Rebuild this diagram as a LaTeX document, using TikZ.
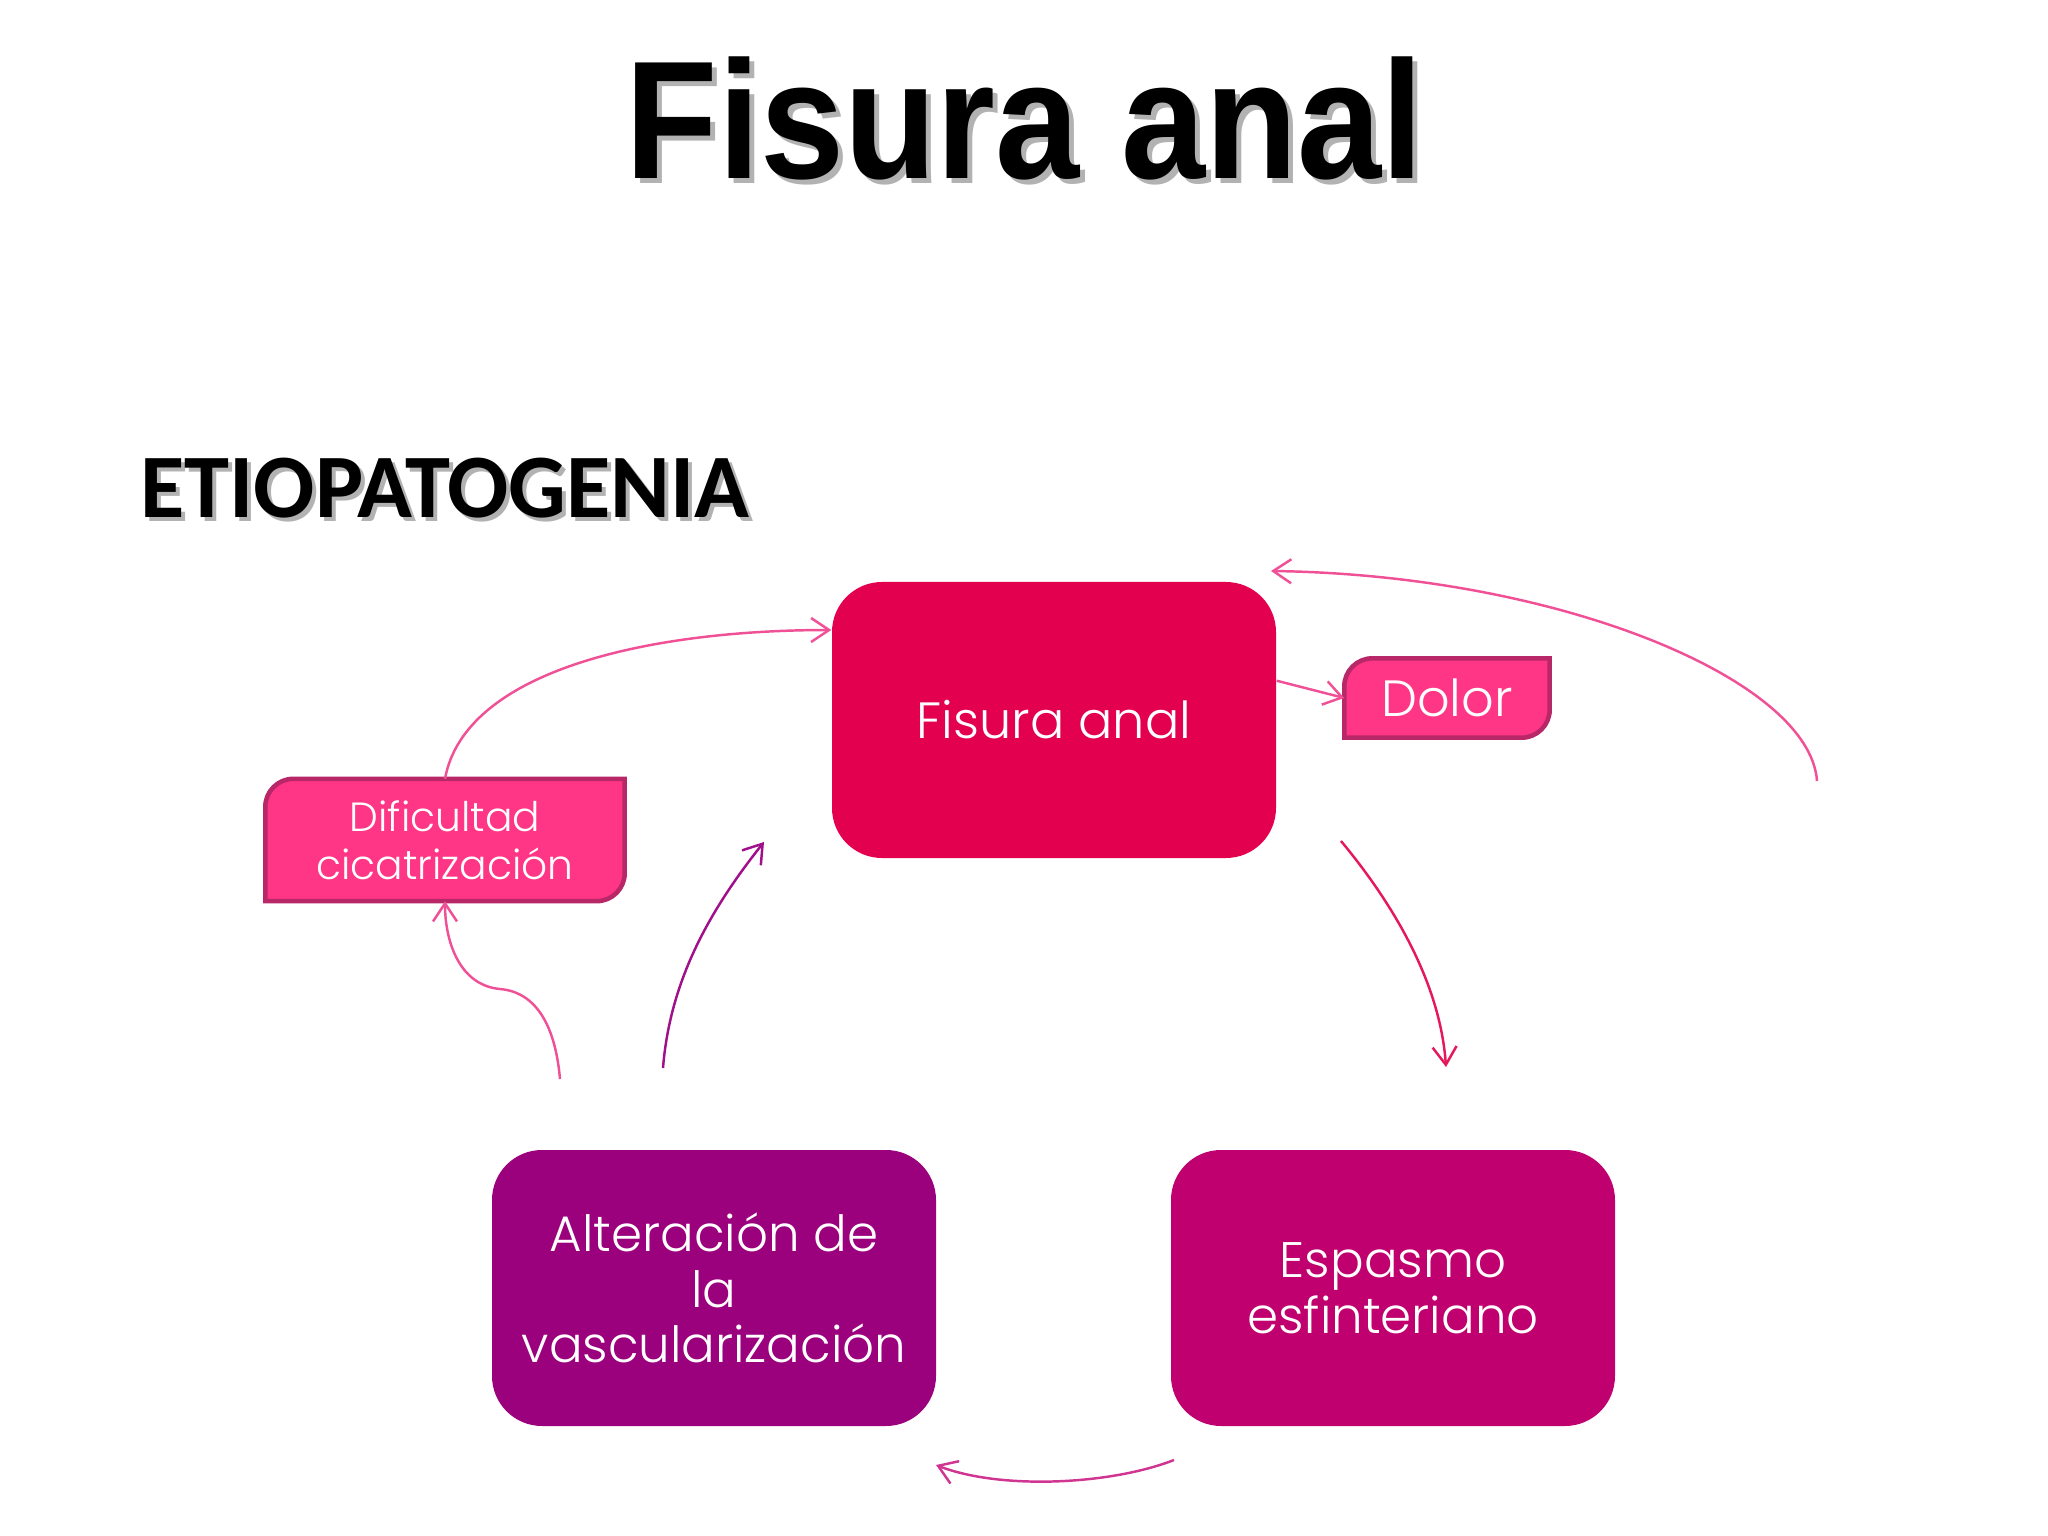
\documentclass[tikz,border=0pt]{standalone}
\usepackage{fontspec}
\setmainfont{Poppins Light}
\newfontfamily\titlefont[FakeStretch=0.9]{Liberation Sans}
\newfontfamily\headfont{Carlito}
\usetikzlibrary{arrows.meta,positioning,backgrounds}

\definecolor{fisfill}{RGB}{227,0,79}
\definecolor{altfill}{RGB}{155,0,125}
\definecolor{espfill}{RGB}{192,0,110}
\definecolor{tagfill}{RGB}{255,53,133}
\definecolor{tagline}{RGB}{184,40,104}
\definecolor{arrpink}{RGB}{240,80,150}
\definecolor{arrred}{RGB}{228,24,90}
\definecolor{arrpurple}{RGB}{160,16,138}

% box with the upper left and lower right corners rounded
\newcommand{\tagshape}[1]{%
  \filldraw[tagbg] (#1.west) [rounded corners=8pt] -- (#1.north west) -- (#1.north)
    [sharp corners] -- (#1.north east) -- (#1.east) [rounded corners=8pt] -- (#1.south east)
    -- (#1.south) [sharp corners] -- (#1.south west) -- cycle;}

\begin{document}
\begin{tikzpicture}[
    bigbox/.style={rectangle, rounded corners=5mm, minimum width=44.4mm, minimum height=27.6mm, text=white, align=center, font=\fontsize{14.2}{15.9}\selectfont},
    tagbox/.style={rectangle, text=white, align=center, inner sep=0pt},
    tagbg/.style={fill=tagfill, draw=tagline, line width=1.3pt},
    arrow/.style={-{Straight Barb[length=1.8mm,width=2.4mm]}, line width=0.7pt, arrpink},
    titletext/.style={anchor=base, font=\titlefont\bfseries\fontsize{47.8}{50}\selectfont},
    headtext/.style={anchor=base, font=\headfont\bfseries\fontsize{25.8}{27}\selectfont}
  ]
    \useasboundingbox (0,0) rectangle (20.48,-15.36);

    % headings
    \node[titletext, text=black!30] (title-sh) at (10.30,-1.84) {Fisura anal};
    \node[titletext] (title) at (10.25,-1.79) {Fisura anal};
    \node[headtext, text=black!30] (head-sh) at (4.49,-5.22) {ETIOPATOGENIA};
    \node[headtext] (head) at (4.45,-5.18) {ETIOPATOGENIA};

    % cycle
    \node[bigbox, fill=fisfill] (fis) at (10.54,-7.20) {\fontsize{14.5}{16}\selectfont Fisura anal};
    \node[bigbox, fill=espfill] (esp) at (13.93,-12.88) {Espasmo\\esfinteriano};
    \node[bigbox, fill=altfill] (alt) at (7.14,-12.88) {Alteración de\\la\\vascularización};

    % side boxes
    \node[tagbox, minimum width=20.4mm, minimum height=7.8mm, font=\fontsize{14.5}{16}\selectfont] (dolor) at (14.47,-6.98) {Dolor};
    \node[tagbox, minimum width=35.8mm, minimum height=12.1mm, font=\fontsize{11.6}{13.7}\selectfont] (dif) at (4.45,-8.40) {Dificultad\\cicatrización};
    \begin{scope}[on background layer]
      \tagshape{dolor}
      \tagshape{dif}
    \end{scope}

    % free ends of the arrows
    \coordinate (loopstart) at (18.17,-7.81);
    \coordinate (loopend) at (12.71,-5.71);
    \coordinate (fisout) at (13.41,-8.41);
    \coordinate (espin) at (14.46,-10.67);
    \coordinate (espout) at (11.74,-14.60);
    \coordinate (altin) at (9.36,-14.65);
    \coordinate (altout) at (6.63,-10.68);
    \coordinate (fisin) at (7.64,-8.42);
    \coordinate (altout2) at (5.60,-10.79);
    \coordinate (bend) at (5.00,-9.89);

    \draw[arrow] (dif.north) .. controls (4.65,-6.70) and (6.50,-6.30) .. (fis.158);
    \draw[arrow] (fis.10) -- (dolor.west);
    \draw[arrow] (loopstart) .. controls (18.10,-6.80) and (15.60,-5.75) .. (loopend);
    \draw[arrow, arrred] (fisout) .. controls (13.90,-9.00) and (14.40,-9.80) .. (espin);
    \draw[arrow, arrpink!60!arrpurple] (espout) .. controls (11.10,-14.85) and (10.00,-14.90) .. (altin);
    \draw[arrow, arrpurple] (altout) .. controls (6.70,-9.80) and (7.10,-9.10) .. (fisin);
    \draw[arrow] (altout2) to[out=95, in=-5] (bend) to[out=175, in=-90] (dif.south);
  \end{tikzpicture}
\end{document}
